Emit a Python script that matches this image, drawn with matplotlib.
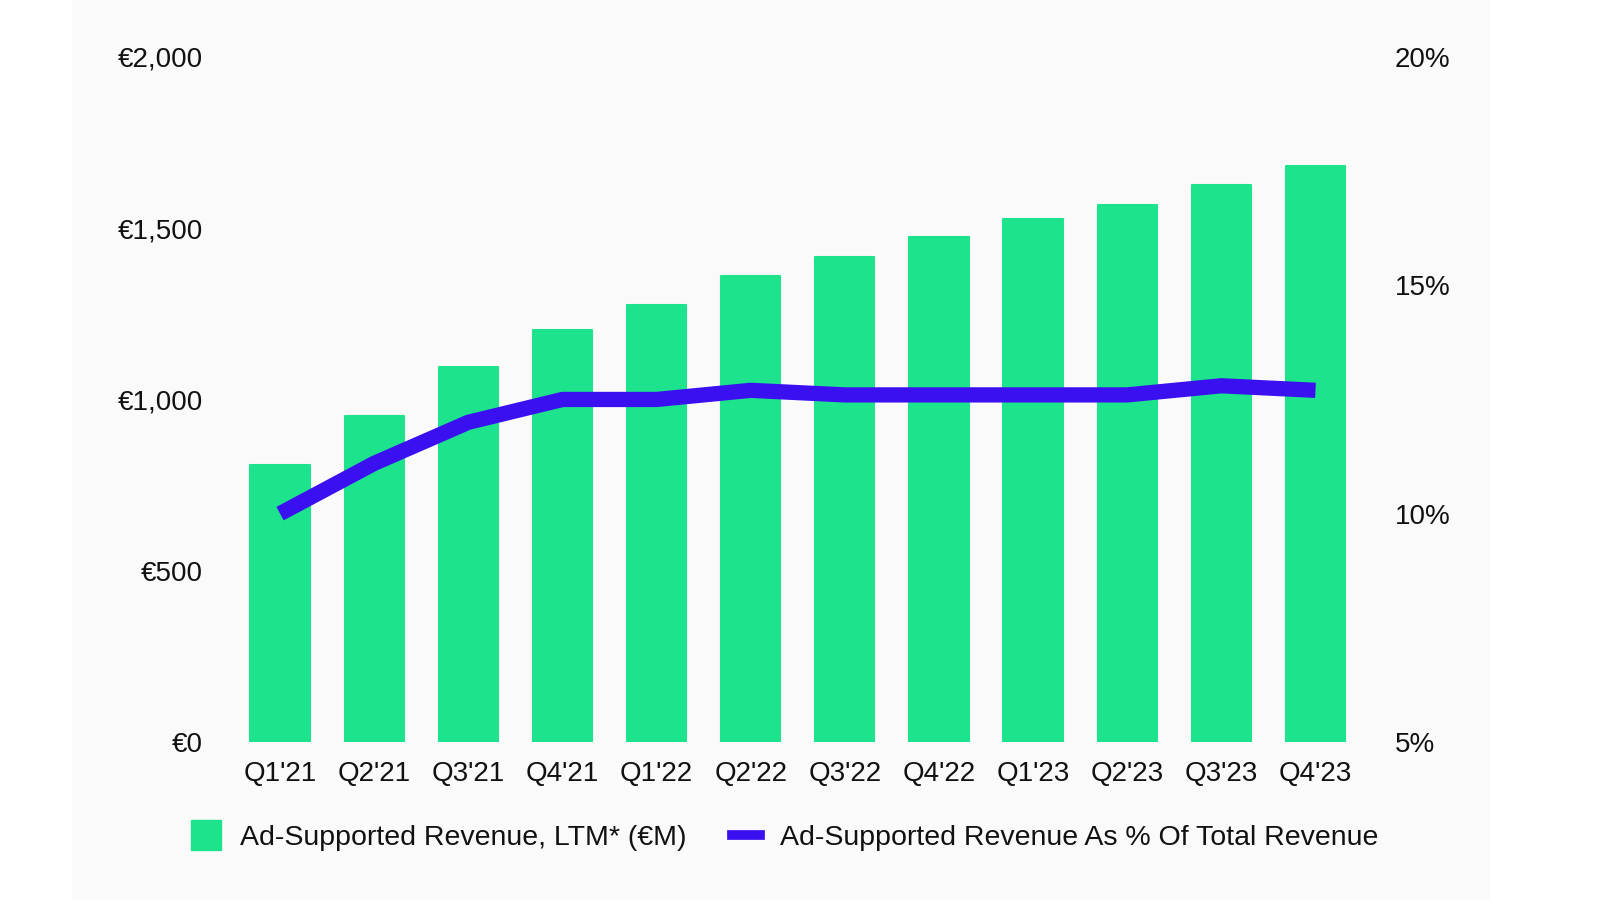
import matplotlib.pyplot as plt
from matplotlib.lines import Line2D

plt.rcParams['font.family'] = ['Liberation Sans', 'DejaVu Sans']

quarters = ["Q1'21", "Q2'21", "Q3'21", "Q4'21", "Q1'22", "Q2'22",
            "Q3'22", "Q4'22", "Q1'23", "Q2'23", "Q3'23", "Q4'23"]
ad_revenue_ltm = [809, 952, 1095, 1203, 1276, 1361, 1416, 1474, 1527, 1568, 1626, 1682]
ad_share_pct = [10.0, 11.1, 12.0, 12.5, 12.5, 12.7, 12.6, 12.6, 12.6, 12.6, 12.8, 12.7]

green = '#1DE38D'
purple = '#3B10F0'

fig = plt.figure(figsize=(16, 9), dpi=100, facecolor='white')
# faint grey panel behind the chart
bg = fig.add_axes([72 / 1600, 0, (1490 - 72) / 1600, 1], zorder=-10)
bg.set_facecolor('#fafafa')
bg.set_xticks([])
bg.set_yticks([])
for s in bg.spines.values():
    s.set_visible(False)

ax = fig.add_axes([0.1456, 0.1756, 0.706, 0.7611])
ax.set_facecolor('none')
x = range(len(quarters))
ax.bar(x, ad_revenue_ltm, width=0.63, color=green, edgecolor=green,
       linewidth=1.5, joinstyle='round', zorder=2)
ax.set_xlim(-0.5, len(quarters) - 0.5)
ax.set_ylim(0, 2000)
ax.set_yticks([0, 500, 1000, 1500, 2000])
ax.set_yticklabels(['€0', '€500', '€1,000', '€1,500', '€2,000'])
ax.set_xticks(list(x))
ax.set_xticklabels(quarters)
ax.tick_params(axis='y', length=0, pad=21.5, labelsize=20, labelcolor='#111111')
ax.tick_params(axis='x', length=0, pad=14, labelsize=20, labelcolor='#111111')
for s in ax.spines.values():
    s.set_visible(False)

ax2 = ax.twinx()
ax2.plot(x, ad_share_pct, color=purple, linewidth=11, solid_joinstyle='round',
         solid_capstyle='butt', zorder=3)
ax2.set_ylim(5, 20)
ax2.set_yticks([5, 10, 15, 20])
ax2.set_yticklabels(['5%', '10%', '15%', '20%'])
ax2.tick_params(axis='y', length=0, pad=23, labelsize=20, labelcolor='#111111')
for s in ax2.spines.values():
    s.set_visible(False)

handles = [
    Line2D([], [], marker='s', linestyle='none', markersize=21,
           markerfacecolor=green, markeredgecolor=green),
    Line2D([], [], color=purple, linewidth=7),
]
labels = ['Ad-Supported Revenue, LTM* (€M)', 'Ad-Supported Revenue As % Of Total Revenue']
fig.legend(handles, labels, loc='center', bbox_to_anchor=(785 / 1600, 1 - 838 / 900),
           ncol=2, frameon=False, fontsize=20.5, handlelength=1.0, handletextpad=0.7,
           columnspacing=1.6, labelcolor='#111111')

fig.savefig('out.png', dpi=100, facecolor=fig.get_facecolor())
